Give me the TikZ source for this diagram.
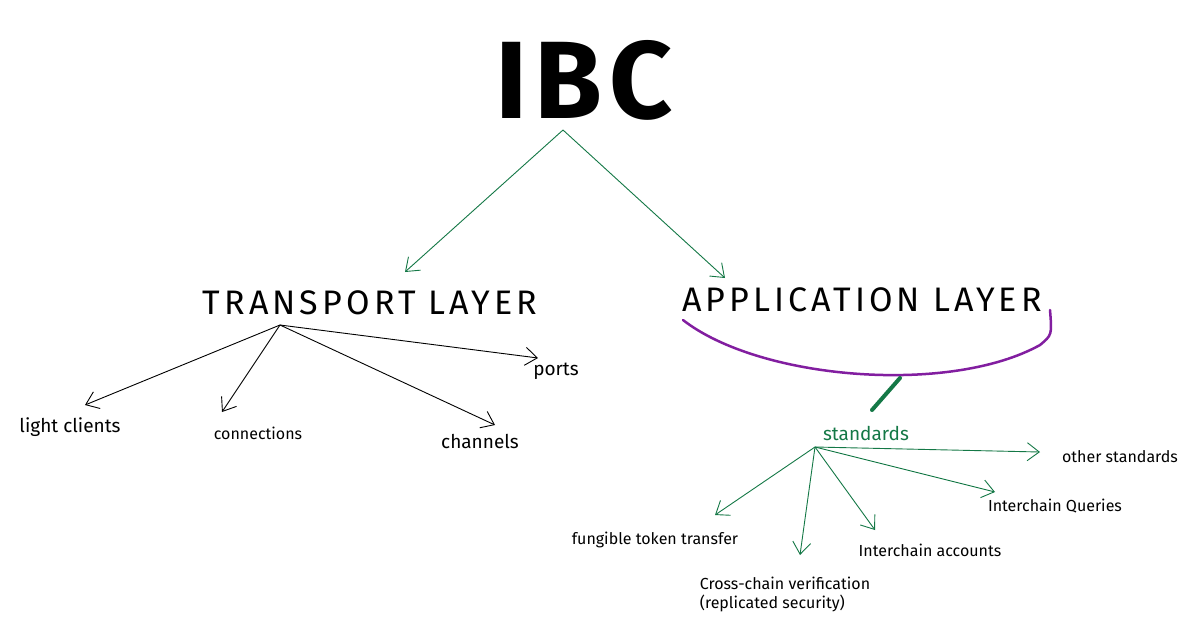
\documentclass[tikz,border=0pt]{standalone}
\usepackage{fontspec}
\setmainfont{Fira Sans}
\newfontfamily\wide[LetterSpace=12]{Fira Sans}
\newfontfamily\wideb[LetterSpace=6]{Fira Sans}
\usetikzlibrary{arrows.meta}
\definecolor{ibcgreen}{RGB}{20,120,70}
\definecolor{ibcpurple}{RGB}{130,30,160}
\begin{document}
\begin{tikzpicture}[x=1pt,y=-1pt,
  garrow/.style={draw=ibcgreen,line width=0.9pt,-{Straight Barb[length=12pt,width=18pt]}},
  barrow/.style={draw=black,line width=0.9pt,-{Straight Barb[length=12pt,width=18pt]}},
  lbl/.style={font=\fontsize{19}{22}\selectfont},
  glbl/.style={font=\fontsize{16}{19}\selectfont},
  layer/.style={font=\wide\fontsize{34}{40}\selectfont}]
\useasboundingbox[fill=white] (0,0) rectangle (1200,625);
\node[font=\wideb\bfseries\fontsize{110}{120}\selectfont] (ibc) at (584,80) {IBC};
\coordinate (ibcb) at (563,130);
\coordinate (ta) at (405,272);
\coordinate (aa) at (725,278);
\draw[garrow] (ibcb) -- (ta);
\draw[garrow] (ibcb) -- (aa);
\node[layer] (tl) at (370,303) {TRANSPORT LAYER};
\node[layer] (al) at (862,300) {APPLICATION LAYER};
\coordinate (tr) at (280,325);
\node[lbl] (lc) at (70,427) {light clients};
\node[glbl] (cn) at (258,433) {connections};
\node[lbl] (ch) at (480,441) {channels};
\node[lbl] (pt) at (556,371) {ports};
\coordinate (lca) at (85,405);
\coordinate (cna) at (222,412);
\coordinate (cha) at (495,425);
\coordinate (pta) at (538,358);
\draw[barrow] (tr) -- (lca);
\draw[barrow] (tr) -- (cna);
\draw[barrow] (tr) -- (cha);
\draw[barrow] (tr) -- (pta);
\coordinate (p1) at (683,320);
\coordinate (p2) at (1050,310);
\draw[ibcpurple,line width=2.5pt,line cap=round] (p1) .. controls (760,380) and (950,395) .. (1040,345) .. controls (1052,335) .. (p2);
\coordinate (k1) at (900,378);
\coordinate (k2) at (872,410);
\draw[ibcgreen,line width=4pt,line cap=round] (k1) -- (k2);
\node[lbl,text=ibcgreen] (st) at (866,433) {standards};
\coordinate (sr) at (815,447);
\node[glbl] (ft) at (655,540) {fungible token transfer};
\node[glbl,align=left] (cc) at (785,594) {Cross-chain verification\\(replicated security)};
\node[glbl] (ia) at (930,550) {Interchain accounts};
\node[glbl] (iq) at (1055,506) {Interchain Queries};
\node[glbl] (os) at (1120,457) {other standards};
\draw[garrow] (sr) -- (715,515);
\draw[garrow] (sr) -- (800,555);
\draw[garrow] (sr) -- (875,530);
\draw[garrow] (sr) -- (995,492);
\draw[garrow] (sr) -- (1040,452);
\end{tikzpicture}
\end{document}
